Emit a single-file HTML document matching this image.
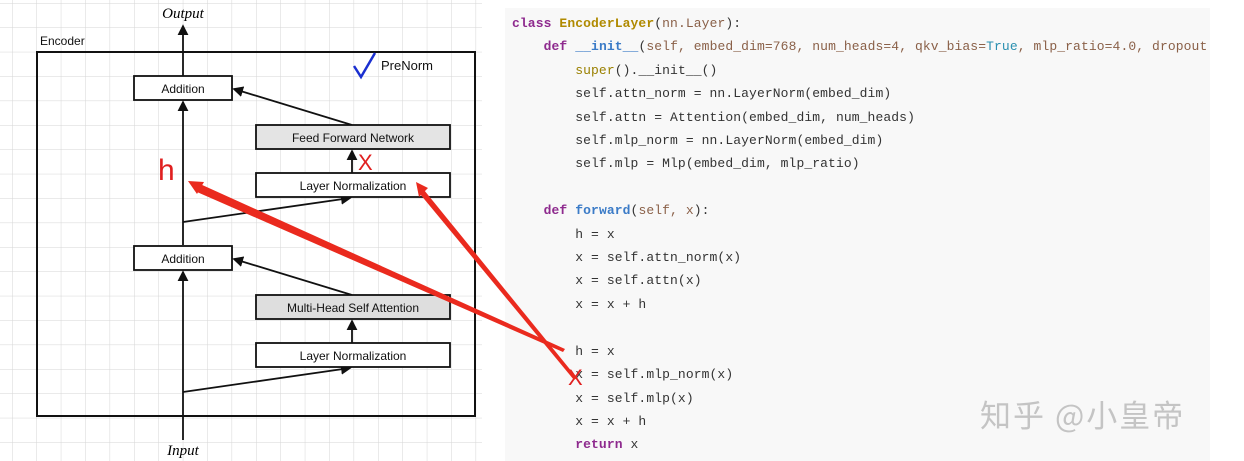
<!DOCTYPE html>
<html><head><meta charset="utf-8"><style>
body{margin:0;width:1244px;height:461px;background:#fff;overflow:hidden;position:relative;font-family:"Liberation Sans",sans-serif}
#code{position:absolute;left:505px;top:8px;width:705px;height:453px;background:#f8f8f8}
pre{position:absolute;left:512px;top:12px;margin:0;font-family:"Liberation Mono","Noto Sans CJK SC",monospace;font-size:13px;line-height:23.4px;color:#333;letter-spacing:0.1px}
.k{color:#8e2a8e;font-weight:bold}.f{color:#3b7bc7;font-weight:bold}.c{color:#b08a00;font-weight:bold}.b{color:#9a8000}.t{color:#2a8fb0}.p{color:#8a6048}
#wm{position:absolute;left:980px;top:391px;font-family:"Noto Sans CJK SC",sans-serif;font-size:31px;color:#c4c4c4;letter-spacing:2px;white-space:nowrap}
svg{position:absolute;left:0;top:0}
</style></head><body>
<div id="code"></div>
<pre><span class="k">class</span> <span class="c">EncoderLayer</span>(<span class="p">nn.Layer</span>):
    <span class="k">def</span> <span class="f">__init__</span>(<span class="p">self, embed_dim=768, num_heads=4, qkv_bias=</span><span class="t">True</span><span class="p">, mlp_ratio=4.0, dropout</span>
        <span class="b">super</span>().__init__()
        self.attn_norm = nn.LayerNorm(embed_dim)
        self.attn = Attention(embed_dim, num_heads)
        self.mlp_norm = nn.LayerNorm(embed_dim)
        self.mlp = Mlp(embed_dim, mlp_ratio)

    <span class="k">def</span> <span class="f">forward</span>(<span class="p">self, x</span>):
        h = x
        x = self.attn_norm(x)
        x = self.attn(x)
        x = x + h

        h = x
        x = self.mlp_norm(x)
        x = self.mlp(x)
        x = x + h
        <span class="k">return</span> x</pre>
<div id="wm">知乎 @小皇帝</div>
<svg width="1244" height="461" viewBox="0 0 1244 461">
<defs>
<pattern id="g" x="12" y="3" width="24.4" height="24.4" patternUnits="userSpaceOnUse">
<path d="M0 0V24.4M0 0H24.4" stroke="#d6d6d6" stroke-width="1" fill="none"/></pattern>
<marker id="a" markerWidth="6" markerHeight="6" refX="5" refY="3" orient="auto"><path d="M0,0 L6,3 L0,6z" fill="#111"/></marker>
</defs>
<rect x="0" y="0" width="482" height="461" fill="url(#g)"/>
<rect x="37" y="52" width="438" height="364" fill="none" stroke="#111" stroke-width="2"/>
<text x="40" y="45" font-size="12" fill="#111">Encoder</text>
<text x="183" y="18" font-size="15" font-style="italic" font-family="Liberation Serif" text-anchor="middle">Output</text>
<text x="183" y="455" font-size="15" font-style="italic" font-family="Liberation Serif" text-anchor="middle">Input</text>
<g stroke="#111" stroke-width="1.8" fill="none">
<line x1="183" y1="440" x2="183" y2="272" marker-end="url(#a)"/>
<line x1="183" y1="245" x2="183" y2="102" marker-end="url(#a)"/>
<line x1="183" y1="76" x2="183" y2="26" marker-end="url(#a)"/>
<line x1="183" y1="392" x2="350" y2="368" marker-end="url(#a)"/>
<line x1="183" y1="222" x2="350" y2="198" marker-end="url(#a)"/>
<line x1="352" y1="343" x2="352" y2="321" marker-end="url(#a)"/>
<line x1="352" y1="173" x2="352" y2="151" marker-end="url(#a)"/>
<line x1="352" y1="295" x2="234" y2="259" marker-end="url(#a)"/>
<line x1="352" y1="125" x2="234" y2="89" marker-end="url(#a)"/>
</g>
<g stroke="#111" stroke-width="1.8">
<rect x="134" y="76" width="98" height="24" fill="#fff"/>
<rect x="134" y="246" width="98" height="24" fill="#fff"/>
<rect x="256" y="125" width="194" height="24" fill="#e4e4e4"/>
<rect x="256" y="173" width="194" height="24" fill="#fff"/>
<rect x="256" y="295" width="194" height="24" fill="#dedede"/>
<rect x="256" y="343" width="194" height="24" fill="#fff"/>
</g>
<g font-size="12" text-anchor="middle" fill="#111">
<text x="183" y="93">Addition</text>
<text x="183" y="263">Addition</text>
<text x="353" y="142">Feed Forward Network</text>
<text x="353" y="190">Layer Normalization</text>
<text x="353" y="312">Multi-Head Self Attention</text>
<text x="353" y="360">Layer Normalization</text>
</g>
<text x="381" y="70" font-size="13" fill="#111">PreNorm</text>
<path d="M354 66 L361 77 L375 53" stroke="#1a2fd0" stroke-width="2.5" fill="none"/>
<text x="158" y="180" font-size="30" fill="#e02020">h</text>
<text x="358" y="170" font-size="22" fill="#e02020">X</text>
<text x="568" y="385" font-size="22" fill="#e02020">X</text>
<g fill="#ea2a1e">
<polygon points="200,184 565,349 563,352 197,192"/>
<polygon points="188,181 204,182 197,194"/>
<polygon points="424,190 577,378 574,380 420,194"/>
<polygon points="416,182 428,188 419,197"/>
</g>
</svg>
</body></html>
